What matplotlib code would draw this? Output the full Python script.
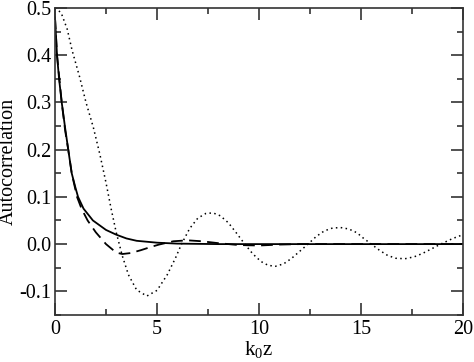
import numpy as np
import matplotlib
matplotlib.use("Agg")
import matplotlib.pyplot as plt
from matplotlib.ticker import MultipleLocator, FormatStrFormatter

plt.rcParams["font.family"] = ["Liberation Serif", "DejaVu Serif"]
plt.rcParams["mathtext.fontset"] = "custom"
plt.rcParams["mathtext.rm"] = "Liberation Serif"
plt.rcParams["mathtext.it"] = "Liberation Serif"
plt.rcParams["axes.unicode_minus"] = False

# solid curve
z_solid = [0, 0.1, 0.2, 0.33, 0.5, 0.65, 0.82, 1.0, 1.13, 1.4, 1.86, 2.5,
           3.0, 3.5, 4.0, 5.0, 6.0, 8.0, 20.0]
ac_solid = [0.48, 0.40, 0.35, 0.30, 0.245, 0.20, 0.15, 0.12, 0.10, 0.075,
            0.05, 0.03, 0.02, 0.012, 0.007, 0.003, 0.001, 0.0, 0.0]

# dashed curve
z_dash = [0, 0.1, 0.33, 0.5, 0.65, 0.82, 1.08, 1.3, 1.6, 2.0, 2.5, 3.0,
          3.3, 3.7, 4.2, 4.7, 5.1, 5.8, 6.5, 7.2, 8.0, 9.0, 10.0, 11.0,
          12.0, 20.0]
ac_dash = [0.48, 0.40, 0.30, 0.24, 0.20, 0.15, 0.10, 0.075, 0.05, 0.025,
           0.0, -0.018, -0.021, -0.019, -0.013, -0.006, -0.001, 0.006,
           0.008, 0.006, 0.002, -0.002, -0.003, -0.001, 0.0, 0.0]

# dotted curve
z_dot = [0, 0.3, 0.6, 0.84, 1.2, 1.52, 1.88, 2.2, 2.5, 2.75, 3.0, 3.3,
         3.6, 4.0, 4.5, 5.0, 5.5, 5.9, 6.2, 6.6, 7.0, 7.4, 7.75, 8.1,
         8.5, 8.9, 9.3, 9.7, 10.1, 10.45, 10.8, 11.2, 11.6, 12.0, 12.4,
         12.8, 13.2, 13.6, 14.0, 14.4, 14.8, 15.1, 15.5, 15.9, 16.3, 16.7,
         17.15, 17.6, 18.0, 18.5, 18.9, 19.5, 20.0]
ac_dot = [0.5, 0.49, 0.455, 0.41, 0.355, 0.3, 0.247, 0.19, 0.13, 0.075, 0.025,
          -0.025, -0.065, -0.097, -0.11, -0.098, -0.065, -0.03, 0.0, 0.033,
          0.055, 0.065, 0.066, 0.06, 0.045, 0.023, 0.0, -0.021, -0.037,
          -0.045, -0.047, -0.042, -0.03, -0.015, 0.0, 0.016, 0.028, 0.034,
          0.035, 0.032, 0.024, 0.013, 0.0, -0.013, -0.024, -0.03, -0.031,
          -0.027, -0.02, -0.009, 0.0, 0.012, 0.02]

fig = plt.figure(figsize=(4.74, 3.62), dpi=100)
ax = fig.add_axes([0.116, 0.130, 0.861, 0.848])

ax.plot(z_dot, ac_dot, color="black", linestyle=(0, (1, 2.2)), linewidth=1.1)
ax.plot(z_dash, ac_dash, color="black", linestyle=(0, (6.5, 3.5)), linewidth=1.3)
ax.plot(z_solid, ac_solid, color="black", linestyle="-", linewidth=1.3)

ax.set_xlim(0, 20)
ax.set_ylim(-0.15, 0.5)
ax.xaxis.set_major_locator(MultipleLocator(5))
ax.xaxis.set_minor_locator(MultipleLocator(2.5))
ax.yaxis.set_major_locator(MultipleLocator(0.1))
ax.yaxis.set_minor_locator(MultipleLocator(0.05))
ax.yaxis.set_major_formatter(FormatStrFormatter("%.1f"))
ax.xaxis.set_major_formatter(FormatStrFormatter("%d"))

ax.tick_params(which="both", direction="in", top=True, right=True,
               labelsize=14.5, width=1.2, colors="#333333", labelcolor="black")
ax.tick_params(which="major", length=8.5, pad=2.5)
ax.tick_params(which="minor", length=4.5)
ax.tick_params(axis="x", which="major", pad=3.5)
for s in ax.spines.values():
    s.set_linewidth(1.2)
    s.set_color("#333333")

ax.set_xlabel("k$_0$z", fontsize=15, labelpad=0)
ax.set_ylabel("Autocorrelation", fontsize=14.5, labelpad=1)

fig.savefig("out.png", dpi=100)
